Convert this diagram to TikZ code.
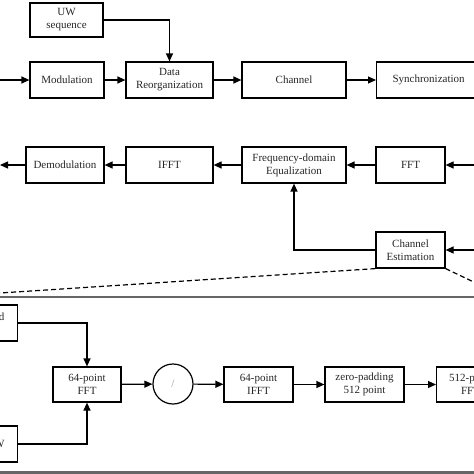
\documentclass[tikz,border=0pt]{standalone}
\usepackage{fontspec}
\setmainfont{Liberation Serif}
\usetikzlibrary{arrows.meta}
\tikzset{
  blk/.style={draw, line width=1.2pt, minimum height=36pt, inner sep=1pt, align=center},
  arr/.style={line width=1.2pt, -{Triangle[length=8pt,width=7pt]}},
  ln/.style={line width=1.2pt}
}
\begin{document}
\begin{tikzpicture}[x=1pt, y=-1pt, every node/.style={font=\fontsize{11}{13}\selectfont, text=black!85}]
  \useasboundingbox (0,0) rectangle (474,474);
  \clip (0,0) rectangle (474,474);
  \coordinate (in) at (0,80);
  \coordinate (out) at (0,165);
  \coordinate (rin) at (480,165);
  \coordinate (cin) at (480,250);
  \coordinate (dl) at (0,293);
  \coordinate (dr) at (480,285);
  \node[blk, minimum width=73pt, minimum height=34pt] (uw) at (66.5,20) {UW\\sequence};
  \node[blk, minimum width=74pt] (mod) at (67,80) {Modulation};
  \node[blk, minimum width=87pt] (reorg) at (169.5,80) {Data\\Reorganization};
  \node[blk, minimum width=104pt] (chan) at (294,80) {Channel};
  \node[blk, minimum width=104pt, anchor=west] (sync) at (376,80) {Synchronization};
  \node[blk, minimum width=78pt] (demod) at (65,165) {Demodulation};
  \node[blk, minimum width=87pt] (ifft) at (169.5,165) {IFFT};
  \node[blk, minimum width=104pt] (fde) at (294,165) {Frequency-domain\\Equalization};
  \node[blk, minimum width=69pt] (fft) at (410.5,165) {FFT};
  \node[blk, minimum width=69pt] (chest) at (410.5,250) {Channel\\Estimation};
  \draw[arr] (in) -- (mod);
  \draw[arr] (mod) -- (reorg);
  \draw[arr] (reorg) -- (chan);
  \draw[arr] (chan) -- (sync);
  \draw[arr] (uw.east) -| (reorg.north);
  \draw[arr] (rin) -- (fft);
  \draw[arr] (fft) -- (fde);
  \draw[arr] (fde) -- (ifft);
  \draw[arr] (ifft) -- (demod);
  \draw[arr] (demod) -- (out);
  \draw[arr] (cin) -- (chest);
  \draw[arr] (chest.west) -| (fde.south);
  \draw[ln, dash pattern=on 5pt off 3pt] (chest.south west) -- (dl);
  \draw[ln, dash pattern=on 5pt off 3pt] (chest.south east) -- (dr);
  \draw[line width=2.5pt, black!60] (0,297) -- (474,297);
  \draw[line width=3pt, black!60] (0,472.5) -- (474,472.5);
  \node[blk, anchor=east, minimum width=60pt, text width=34pt, inner xsep=13pt, align=right, text height=8pt, text depth=14pt] (rx) at (18,323) {d};
  \node[blk, anchor=east, minimum width=60pt, text width=34pt, inner xsep=11pt, align=right] (uwl) at (18,444) {UW};
  \node[blk, minimum width=68pt, minimum height=35pt] (fft64) at (87,384.5) {64-point\\FFT};
  \node[draw, line width=1.2pt, circle, minimum size=40pt, inner sep=0pt, text=black!40] (div) at (173,384) {/};
  \node[blk, minimum width=69pt, minimum height=35pt] (ifft64) at (258.5,384.5) {64-point\\IFFT};
  \node[blk, minimum width=79pt, minimum height=35pt] (zp) at (364.5,384.5) {zero-padding\\512 point};
  \node[blk, minimum width=68pt, minimum height=35pt, anchor=west] (fft512) at (436,384.5) {512-point\\FFT};
  \draw[arr] (rx.east) -| (fft64.north);
  \draw[arr] (uwl.east) -| (fft64.south);
  \draw[arr] (fft64) -- (div);
  \draw[arr] (div) -- (ifft64);
  \draw[arr] (ifft64) -- (zp);
  \draw[arr] (zp) -- (fft512);
\end{tikzpicture}
\end{document}
